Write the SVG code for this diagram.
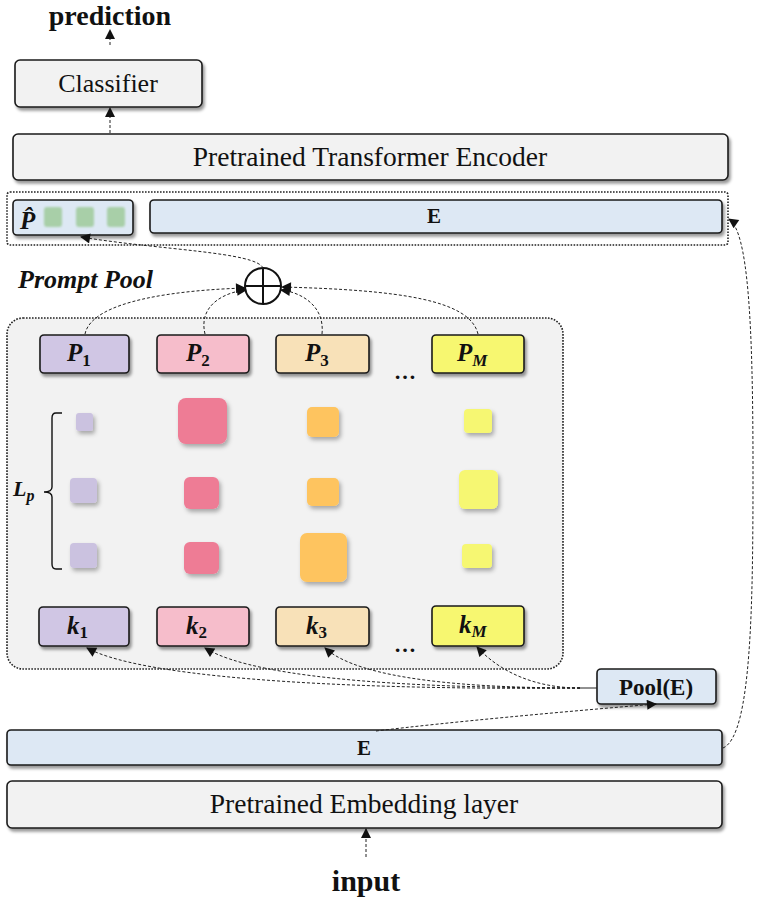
<svg xmlns="http://www.w3.org/2000/svg" width="762" height="899" viewBox="0 0 762 899">
<defs>
<style>
.box{stroke:#1a1a1a;stroke-width:1.6;filter:url(#sh)}
.gray{fill:#f2f2f2}
.blue{fill:#dde8f4}
.t{font-family:"Liberation Serif","Times New Roman",serif;fill:#111}
.b{font-weight:bold}
.bi{font-weight:bold;font-style:italic}
.c{stroke:#222;stroke-width:1;fill:none;stroke-dasharray:3 2;marker-end:url(#ah)}
.dot{fill:none;stroke:#222;stroke-width:1.6;stroke-dasharray:1.6 1.4}
.sq{filter:url(#ss)}
</style>
<filter id="sh" x="-10%" y="-20%" width="130%" height="160%">
<feDropShadow dx="2" dy="3" stdDeviation="1.6" flood-color="#000" flood-opacity="0.4"/>
</filter>
<filter id="ss" x="-40%" y="-40%" width="190%" height="190%">
<feDropShadow dx="2" dy="3" stdDeviation="2" flood-color="#000" flood-opacity="0.3"/>
</filter>
<filter id="gs" x="-40%" y="-40%" width="180%" height="180%">
<feGaussianBlur stdDeviation="0.8"/>
</filter>
<marker id="ah" viewBox="0 0 10 10" refX="9" refY="5" markerWidth="12" markerHeight="10" markerUnits="userSpaceOnUse" orient="auto">
<path d="M0,0 L10,5 L0,10 z" fill="#111"/>
</marker>
</defs>
<rect width="762" height="899" fill="#fff"/>

<g id="prediction"><text class="t b" x="110" y="25" font-size="28" text-anchor="middle">prediction</text></g>

<g id="classifier">
<rect class="box gray" x="15" y="60" width="187" height="47" rx="5"/>
<text class="t" x="108" y="92" font-size="26" text-anchor="middle">Classifier</text>
</g>

<g id="transformer">
<rect class="box gray" x="13" y="134" width="715" height="46" rx="5"/>
<text class="t" x="370" y="166" font-size="27.5" text-anchor="middle">Pretrained Transformer Encoder</text>
</g>

<g id="input-group">
<rect class="dot" x="7" y="192" width="721" height="53" rx="3"/>
<g id="phat">
<rect class="box blue" x="13" y="200" width="120" height="35" rx="4"/>
<text class="t bi" x="20" y="229" font-size="25">P̂</text>
<rect x="44" y="207" width="18" height="20" rx="3" fill="#a8cfa8" filter="url(#gs)"/>
<rect x="76" y="207" width="18" height="20" rx="3" fill="#a8cfa8" filter="url(#gs)"/>
<rect x="107" y="207" width="18" height="20" rx="3" fill="#a8cfa8" filter="url(#gs)"/>
</g>
<g id="e-top">
<rect class="box blue" x="150" y="200" width="572" height="33" rx="4"/>
<text class="t b" x="434" y="223" font-size="21" text-anchor="middle">E</text>
</g>
</g>

<g id="prompt-pool-label"><text class="t bi" x="18" y="288" font-size="26">Prompt Pool</text></g>

<g id="sum">
<circle cx="263" cy="286" r="18" fill="#fff" stroke="#111" stroke-width="2"/>
<line x1="245" y1="286" x2="281" y2="286" stroke="#111" stroke-width="2"/>
<line x1="263" y1="268" x2="263" y2="304" stroke="#111" stroke-width="2"/>
</g>

<g id="prompt-pool">
<rect x="7" y="318" width="556" height="351" rx="16" fill="#f2f2f2" stroke="#222" stroke-width="1.6" stroke-dasharray="1.6 1.4"/>

<g id="P1"><rect class="box" x="40" y="335" width="89" height="38" rx="4" fill="#d0c6e4"/>
<text class="t bi" x="67" y="361" font-size="25">P<tspan font-style="normal" font-size="17" dy="5">1</tspan></text></g>
<g id="P2"><rect class="box" x="157" y="335" width="92" height="38" rx="4" fill="#f6bdcb"/>
<text class="t bi" x="186" y="361" font-size="25">P<tspan font-style="normal" font-size="17" dy="5">2</tspan></text></g>
<g id="P3"><rect class="box" x="276" y="335" width="93" height="38" rx="4" fill="#f8e1b8"/>
<text class="t bi" x="305" y="361" font-size="25">P<tspan font-style="normal" font-size="17" dy="5">3</tspan></text></g>
<g id="PM"><rect class="box" x="432" y="335" width="92" height="38" rx="4" fill="#f7f76f"/>
<text class="t bi" x="457" y="361" font-size="25">P<tspan font-size="17" dy="5">M</tspan></text></g>
<text class="t b" x="405" y="379" font-size="22" text-anchor="middle">…</text>

<g id="squares">
<rect class="sq" x="76" y="413" width="17" height="18" rx="3" fill="#cbc2e0"/>
<rect class="sq" x="70" y="478" width="27" height="25" rx="4" fill="#cbc2e0"/>
<rect class="sq" x="70" y="543" width="27" height="25" rx="4" fill="#cbc2e0"/>
<rect class="sq" x="178" y="398" width="49" height="46" rx="8" fill="#ee7b95"/>
<rect class="sq" x="184" y="477" width="35" height="32" rx="6" fill="#ee7b95"/>
<rect class="sq" x="184" y="542" width="35" height="32" rx="6" fill="#ee7b95"/>
<rect class="sq" x="307" y="407" width="32" height="30" rx="5" fill="#fec45f"/>
<rect class="sq" x="307" y="478" width="32" height="28" rx="5" fill="#fec45f"/>
<rect class="sq" x="300" y="533" width="47" height="49" rx="7" fill="#fec45f"/>
<rect class="sq" x="464" y="409" width="28" height="24" rx="4" fill="#f6f772"/>
<rect class="sq" x="459" y="470" width="39" height="39" rx="6" fill="#f6f772"/>
<rect class="sq" x="462" y="544" width="30" height="24" rx="4" fill="#f6f772"/>
</g>

<g id="Lp">
<path d="M62,413 L56,413 Q52,413 52,418 L52,487 Q52,492 44,492 Q52,492 52,497 L52,564 Q52,569 56,569 L62,569" fill="none" stroke="#111" stroke-width="1.4"/>
<text class="t bi" x="13" y="496" font-size="22">L<tspan font-size="16" dy="5">p</tspan></text>
</g>

<g id="k1"><rect class="box" x="39" y="607" width="90" height="39" rx="4" fill="#d0c6e4"/>
<text class="t bi" x="67" y="634" font-size="25">k<tspan font-style="normal" font-size="17" dy="4">1</tspan></text></g>
<g id="k2"><rect class="box" x="157" y="607" width="92" height="39" rx="4" fill="#f6bdcb"/>
<text class="t bi" x="186" y="634" font-size="25">k<tspan font-style="normal" font-size="17" dy="4">2</tspan></text></g>
<g id="k3"><rect class="box" x="276" y="607" width="93" height="39" rx="4" fill="#f8e1b8"/>
<text class="t bi" x="306" y="634" font-size="25">k<tspan font-style="normal" font-size="17" dy="4">3</tspan></text></g>
<g id="kM"><rect class="box" x="432" y="606" width="92" height="40" rx="4" fill="#f7f76f"/>
<text class="t bi" x="459" y="633" font-size="25">k<tspan font-size="17" dy="4">M</tspan></text></g>
<text class="t b" x="405" y="652" font-size="22" text-anchor="middle">…</text>
</g>

<g id="pool-e">
<rect class="box blue" x="597" y="669" width="119" height="35" rx="4"/>
<text class="t b" x="656" y="695" font-size="23" text-anchor="middle">Pool(E)</text>
</g>

<g id="e-bottom">
<rect class="box blue" x="7" y="730" width="715" height="35" rx="4"/>
<text class="t b" x="364" y="755" font-size="21" text-anchor="middle">E</text>
</g>

<g id="embedding">
<rect class="box gray" x="7" y="781" width="715" height="47" rx="5"/>
<text class="t" x="364" y="813" font-size="27.5" text-anchor="middle">Pretrained Embedding layer</text>
</g>

<g id="input"><text class="t b" x="366" y="891" font-size="30" text-anchor="middle">input</text></g>

<g id="connectors">
<path class="c" d="M110,45 L110,30"/>
<path class="c" d="M110,133 L110,108"/>
<path class="c" d="M366,857 L366,829"/>
<path class="c" d="M263,268 C256,252 160,250 81,237"/>
<path class="c" d="M85,334 C92,300 180,290 245,288"/>
<path class="c" d="M205,334 C198,305 225,292 246,290"/>
<path class="c" d="M322,334 C325,305 300,292 281,290"/>
<path class="c" d="M478,334 C470,300 400,290 282,287"/>
<path d="M597,688 L578,688" stroke="#222" stroke-width="1"/>
<path class="c" d="M580,688 C535,688 500,672 477,647"/>
<path class="c" d="M580,688 C470,688 360,680 325,648"/>
<path class="c" d="M580,688 C440,688 260,682 205,648"/>
<path class="c" d="M580,688 C390,690 150,682 87,648"/>
<path class="c" d="M376,731 C450,722 560,712 656,704"/>
<path class="c" d="M723,748 C752,736 753,600 753,470 C753,320 748,232 729,219"/>
</g>
</svg>
